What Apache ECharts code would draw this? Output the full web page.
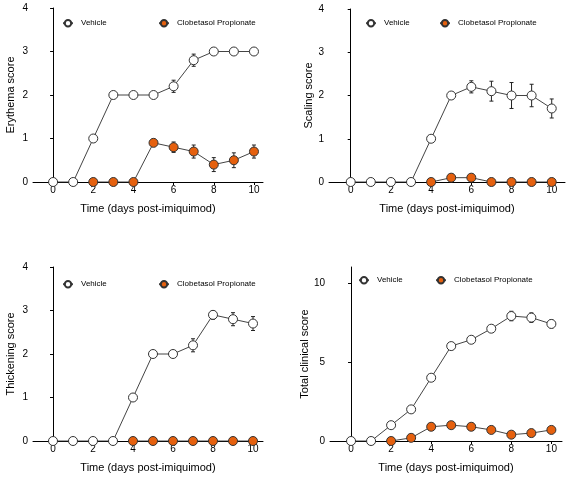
<!DOCTYPE html>
<html>
<head>
<meta charset="utf-8">
<script src="https://cdn.jsdelivr.net/npm/echarts@6/dist/echarts.min.js"></script>
<style>
  html, body { margin: 0; padding: 0; background: #fff; }
  #chart { width: 570px; height: 482px; }
</style>
</head>
<body>
<div id="chart"></div>
<script>
  // days post-imiquimod
  const days = [0, 1, 2, 3, 4, 5, 6, 7, 8, 9, 10]
  const xTicks = [0, 2, 4, 6, 8, 10]

  // erythema
  const erythemaVehicle = [0, 0, 1, 2, 2, 2, 2.2, 2.8, 3, 3, 3]
  const erythemaVehicleErr = [0, 0, 0, 0, 0, 0, 0.14, 0.14, 0, 0, 0]
  const erythemaClob = [null, null, 0, 0, 0, 0.9, 0.8, 0.7, 0.4, 0.5, 0.7]
  const erythemaClobErr = [null, null, 0, 0, 0, 0.08, 0.12, 0.15, 0.16, 0.17, 0.15]

  // scaling
  const scalingVehicle = [0, 0, 0, 0, 1, 2, 2.2, 2.1, 2.0, 2.0, 1.7]
  const scalingVehicleErr = [0, 0, 0, 0, 0, 0, 0.14, 0.23, 0.3, 0.26, 0.22]
  const scalingClob = [null, null, null, null, 0, 0.1, 0.1, 0, 0, 0, 0]
  const scalingClobErr = [null, null, null, null, 0, 0.08, 0.08, 0, 0, 0, 0]

  // thickening
  const thickVehicle = [0, 0, 0, 0, 1, 2, 2, 2.2, 2.9, 2.8, 2.7]
  const thickVehicleErr = [0, 0, 0, 0, 0, 0, 0, 0.15, 0.1, 0.15, 0.16]
  const thickClob = [null, null, null, null, 0, 0, 0, 0, 0, 0, 0]
  const thickClobErr = [null, null, null, null, 0, 0, 0, 0, 0, 0, 0]

  // total clinical score
  const totalVehicle = [0, 0, 1, 2, 4, 6, 6.4, 7.1, 7.9, 7.8, 7.4]
  const totalVehicleErr = [0, 0, 0, 0, 0, 0, 0.2, 0.2, 0.3, 0.3, 0.25]
  const totalClob = [null, null, 0, 0.2, 0.9, 1.0, 0.9, 0.7, 0.4, 0.5, 0.7]
  const totalClobErr = [null, null, 0, 0, 0.1, 0.1, 0.1, 0.1, 0.1, 0.1, 0.1]

  const orange = '#e5600e'
  const font = 'Liberation Sans, Arial, sans-serif'

  const panels = [
    { name: 'Erythema score', vehicle: erythemaVehicle, vErr: erythemaVehicleErr, clob: erythemaClob, cErr: erythemaClobErr,
      grid: { left: 33, top: 8, width: 230, height: 174 }, xMin: -1, xMax: 10.45, yMax: 4, yTicks: [0, 1, 2, 3, 4], nameGap: 17,
      legV: { left: 62, top: 19 }, legC: { left: 158, top: 19 } },
    { name: 'Scaling score', vehicle: scalingVehicle, vErr: scalingVehicleErr, clob: scalingClob, cErr: scalingClobErr,
      grid: { left: 329, top: 9, width: 236, height: 173 }, xMin: -1.08, xMax: 10.66, yMax: 4, yTicks: [0, 1, 2, 3, 4], nameGap: 14,
      legV: { left: 365, top: 19 }, legC: { left: 439, top: 19 } },
    { name: 'Thickening score', vehicle: thickVehicle, vErr: thickVehicleErr, clob: thickClob, cErr: thickClobErr,
      grid: { left: 33, top: 267, width: 230, height: 174 }, xMin: -1, xMax: 10.5, yMax: 4, yTicks: [0, 1, 2, 3, 4], nameGap: 17,
      legV: { left: 62, top: 280 }, legC: { left: 158, top: 280 } },
    { name: 'Total clinical score', vehicle: totalVehicle, vErr: totalVehicleErr, clob: totalClob, cErr: totalClobErr,
      grid: { left: 330, top: 267, width: 232, height: 174 }, xMin: -1.05, xMax: 10.53, yMax: 11, yTicks: [0, 5, 10], nameGap: 20,
      legV: { left: 358, top: 276 }, legC: { left: 435, top: 276 } }
  ]

  function pairs(vals) {
    const out = []
    vals.forEach((v, i) => { if (v !== null) out.push([days[i], v]) })
    return out
  }
  function errPairs(vals, errs) {
    const out = []
    vals.forEach((v, i) => { if (v !== null && errs[i]) out.push([days[i], v, errs[i]]) })
    return out
  }

  function renderErr(params, api) {
    const x = api.value(0), y = api.value(1), e = api.value(2)
    const top = api.coord([x, y + e])
    const bot = api.coord([x, y - e])
    const st = { stroke: '#222', lineWidth: 1 }
    return {
      type: 'group',
      children: [
        { type: 'line', shape: { x1: top[0], y1: top[1], x2: bot[0], y2: bot[1] }, style: st },
        { type: 'line', shape: { x1: top[0] - 2, y1: top[1], x2: top[0] + 2, y2: top[1] }, style: st },
        { type: 'line', shape: { x1: bot[0] - 2, y1: bot[1], x2: bot[0] + 2, y2: bot[1] }, style: st }
      ]
    }
  }

  const grid = [], xAxis = [], yAxis = [], series = [], legend = []
  panels.forEach((p, i) => {
    grid.push(Object.assign({ containLabel: false }, p.grid))
    xAxis.push({
      type: 'value', gridIndex: i, min: p.xMin, max: p.xMax,
      name: 'Time (days post-imiquimod)', nameLocation: 'middle', nameGap: 21,
      nameTextStyle: { fontFamily: font, fontSize: 11, color: '#000' },
      axisLine: { lineStyle: { color: '#000', width: 1 } },
      axisTick: { show: true, length: 3, customValues: xTicks, lineStyle: { color: '#000' } },
      axisLabel: { customValues: xTicks, margin: 3, fontFamily: font, fontSize: 10, color: '#000' },
      splitLine: { show: false }
    })
    yAxis.push({
      type: 'value', gridIndex: i, min: 0, max: p.yMax,
      name: p.name, nameLocation: 'middle', nameGap: p.nameGap,
      nameTextStyle: { fontFamily: font, fontSize: 11, color: '#000' },
      axisLine: { show: true, lineStyle: { color: '#000', width: 1 } },
      axisTick: { show: true, length: 3, customValues: p.yTicks, lineStyle: { color: '#000' } },
      axisLabel: { customValues: p.yTicks, margin: 5, fontFamily: font, fontSize: 10, color: '#000' },
      splitLine: { show: false }
    })
    series.push({
      type: 'custom', xAxisIndex: i, yAxisIndex: i, z: 1, silent: true,
      data: errPairs(p.vehicle, p.vErr).concat(errPairs(p.clob, p.cErr)),
      renderItem: renderErr
    })
    series.push({
      name: 'Vehicle', type: 'line', xAxisIndex: i, yAxisIndex: i, z: 3,
      data: pairs(p.vehicle), symbol: 'circle', symbolSize: 9, showAllSymbol: true,
      lineStyle: { color: '#444', width: 1 },
      itemStyle: { color: '#fff', borderColor: '#333', borderWidth: 1 }
    })
    series.push({
      name: 'Clobetasol Propionate', type: 'line', xAxisIndex: i, yAxisIndex: i, z: 3,
      data: pairs(p.clob), symbol: 'circle', symbolSize: 9, showAllSymbol: true,
      lineStyle: { color: '#444', width: 1 },
      itemStyle: { color: orange, borderColor: '#333', borderWidth: 1 }
    })
    const legBase = {
      orient: 'horizontal', itemWidth: 10, itemHeight: 8, selectedMode: false, padding: 0,
      textStyle: { fontFamily: font, fontSize: 8, color: '#000', padding: [0, 0, 0, 3] }
    }
    legend.push(Object.assign({ data: ['Vehicle'] }, legBase, p.legV))
    legend.push(Object.assign({ data: ['Clobetasol Propionate'] }, legBase, p.legC))
  })

  const chart = echarts.init(document.getElementById('chart'))
  chart.setOption({
    animation: false,
    backgroundColor: '#fff',
    grid: grid,
    xAxis: xAxis,
    yAxis: yAxis,
    legend: legend,
    series: series
  })
</script>
</body>
</html>
